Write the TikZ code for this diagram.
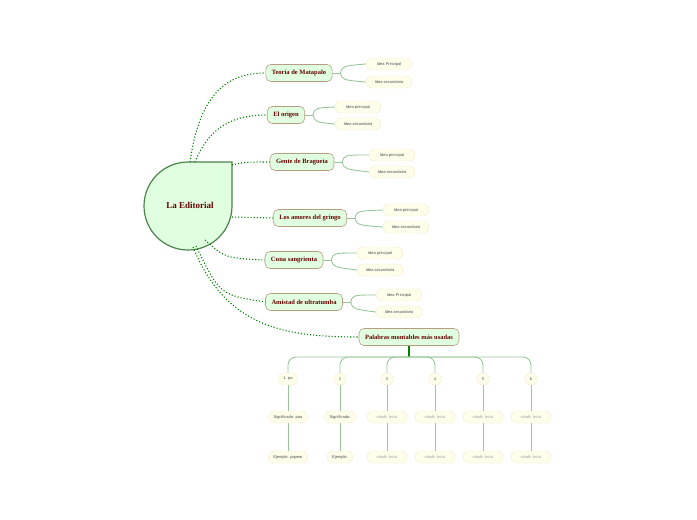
\documentclass[tikz,border=0pt]{standalone}
\usepackage{fontspec}
\usetikzlibrary{calc}
\setmainfont{Liberation Serif}
\newfontfamily\subf{Liberation Sans}
\begin{document}
\begin{tikzpicture}[x=1pt,y=-1pt,
  br/.style={draw=brown!70!black!60,fill=green!12!white,rounded corners=5pt,line width=0.6pt,minimum height=17pt,inner xsep=6pt,font=\bfseries\fontsize{6.5}{7}\selectfont,text=red!40!black},
  sub/.style={draw=yellow!30!brown!25,fill=yellow!8!white,rounded corners=6pt,minimum height=12pt,inner xsep=5pt,font=\subf\fontsize{4}{5}\selectfont,text=black!70},
  sub2/.style={sub,text=black!35},
  con/.style={green!50!black,dotted,line width=1.1pt},
  lk/.style={green!45!black!40,line width=0.9pt}]
\useasboundingbox (0,0) rectangle (697,520);
\draw[fill=green!12!white,draw=green!30!black!70,line width=1.2pt] (188,162) arc[start angle=-90,end angle=-360,radius=44] -- (232,162) -- cycle;
\node (c) at (190,205) {\bfseries\fontsize{9}{10}\selectfont\color{red!40!black}La Editorial};
\node[br] (b1) at (299,73) {Teoría de Matapalo};
\node[br] (b2) at (286,115) {El origen};
\node[br] (b3) at (302,162) {Gente de Bragueta};
\node[br] (b4) at (310,218) {Los amores del gringo};
\node[br] (b5) at (294,260) {Cuna sangrienta};
\node[br] (b6) at (304,302) {Amistad de ultratumba};
\node[br] (b7) at (409,337) {Palabras montables más usadas};
\coordinate (o1) at (190,162); \coordinate (o2) at (195,162);
\coordinate (o3) at (232,165); \coordinate (o4) at (232,217);
\coordinate (o5) at (205,240); \coordinate (o6) at (196,246); \coordinate (o7) at (193,247);
\draw[con] (o1) .. controls (200,90) and (230,73) .. (b1.west);
\draw[con] (o2) .. controls (210,125) and (235,115) .. (b2.west);
\draw[con] (o3) .. controls (245,162) .. (b3.west);
\draw[con] (o4) -- (b4.west);
\draw[con] (o5) .. controls (225,258) .. (b5.west);
\draw[con] (o6) .. controls (220,295) .. (b6.west);
\draw[con] (o7) .. controls (225,325) and (280,337) .. (b7.west);
\foreach \b/\x/\ya/\yb/\ta/\tb in {b1/389/64/82/Idea Principal/Idea secundaria, b2/358/107/124/Idea principal/Idea secundaria, b3/392/155/172/Idea principal/Idea secundaria, b4/406/210/227/Idea principal/Idea secundaria, b5/380/253/270/Idea principal/Idea secundaria, b6/399/295/312/Idea Principal/Idea secundaria}{
  \node[sub,minimum width=46pt] (\b a) at (\x,\ya) {\ta};
  \node[sub,minimum width=46pt] (\b b) at (\x,\yb) {\tb};
  \draw[lk] (\b.east) -- ++(8,0) coordinate (\b m);
  \draw[lk] (\b m) .. controls ($(\b m)+(2,-7)$) .. (\b a.west);
  \draw[lk] (\b m) .. controls ($(\b m)+(2,7)$) .. (\b b.west);
}
\coordinate (bus) at (409,357);
\draw[green!50!black,line width=1.3pt] (b7.south) -- (bus);
\foreach \i/\x/\t/\s/\e in {1/288/1: pa/Significado: paa/Ejemplo: papear, 2/340/2/Significado:/Ejemplo:}{
  \node[sub] (t\i) at (\x,379) {\t};
  \node[sub] (s\i) at (\x,417) {\s};
  \node[sub] (e\i) at (\x,457) {\e};
}
\foreach \i/\x in {3/387,4/435,5/483,6/531}{
  \node[sub] (t\i) at (\x,379) {\i};
  \node[sub2,minimum width=40pt] (s\i) at (\x,417) {añadir texto};
  \node[sub2,minimum width=40pt] (e\i) at (\x,457) {añadir texto};
}
\foreach \i in {1,...,6}{
  \draw[lk,rounded corners=8pt] (bus) -| (t\i.north);
  \draw[lk] (t\i) -- (s\i);
  \draw[lk] (s\i) -- (e\i);
}
\end{tikzpicture}
\end{document}
